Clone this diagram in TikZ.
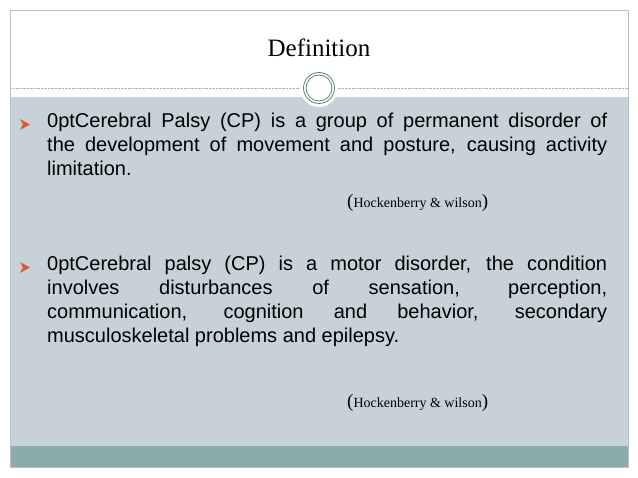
\documentclass[tikz,border=0pt]{standalone}
\usepackage{fontspec}
\setmainfont{Liberation Sans}
\newfontfamily\citefont{Liberation Serif}
\begin{document}
\begin{tikzpicture}[x=1pt,y=-1pt,
  para/.style={anchor=north west,text width=560pt,align=justify,inner sep=0pt,font=\fontsize{20}{24}\selectfont\hyphenpenalty=10000\exhyphenpenalty=10000},
  cite/.style={anchor=base west,inner sep=0pt,font=\citefont\fontsize{14}{16}\selectfont},
  bul/.style={fill={rgb,255:red,220;green,90;blue,50}}]
\useasboundingbox (0,0) rectangle (638,478);
\fill[white] (0,0) rectangle (638,478);
\fill[fill={rgb,255:red,199;green,210;blue,216}] (10,97) rectangle (628,446);
\fill[fill={rgb,255:red,138;green,172;blue,172}] (10,446) rectangle (628,467);
\draw[gray!50] (10,10) rectangle (628,467);
\draw[gray!60,densely dotted] (10,88) -- (628,88);
\node[circle,fill=white,minimum size=38pt,inner sep=0pt] (c) at (319,88) {};
\draw[gray!80!teal,line width=0.8pt] (319,88) circle (15.5);
\draw[gray!80!teal,line width=0.8pt] (319,88) circle (13);
\node[font=\citefont\fontsize{25}{28}\selectfont,anchor=base] (t) at (319,57) {Definition};
\node[para] (p1) at (47,113) {Cerebral Palsy (CP) is a group of permanent disorder of\linebreak the development of movement and posture, causing activity\linebreak limitation.};
\node[para] (p2) at (47,256) {Cerebral palsy (CP) is a motor disorder, the condition\linebreak involves disturbances of sensation, perception,\linebreak communication, cognition and behavior, secondary\linebreak musculoskeletal problems and epilepsy.};
\fill[bul] (20,119) -- (30,124.5) -- (20,130) -- (23,124.5) -- cycle;
\fill[bul] (20,262) -- (30,267.5) -- (20,273) -- (23,267.5) -- cycle;
\node[cite] (c1) at (347,208) {\fontsize{19}{20}\selectfont(\fontsize{14}{16}\selectfont Hockenberry \& wilson\fontsize{19}{20}\selectfont)};
\node[cite] (c2) at (347,408) {\fontsize{19}{20}\selectfont(\fontsize{14}{16}\selectfont Hockenberry \& wilson\fontsize{19}{20}\selectfont)};
\end{tikzpicture}
\end{document}
